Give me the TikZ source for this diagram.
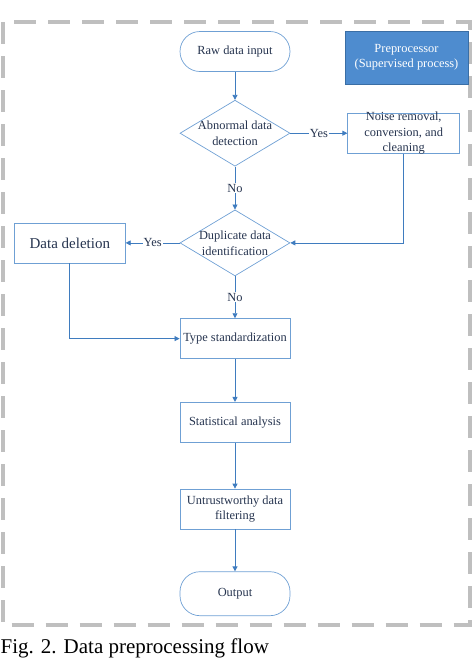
\documentclass[tikz,border=0pt]{standalone}
\usepackage{fontspec}
\setmainfont{Liberation Serif}
\usetikzlibrary{positioning,shapes.geometric,arrows.meta}
\definecolor{flowline}{HTML}{3F7CBF}
\definecolor{boxline}{HTML}{6FA0D4}
\definecolor{flowtext}{HTML}{26344F}
\definecolor{procfill}{HTML}{4E8CCF}
\definecolor{procline}{HTML}{3A6EA5}

\begin{document}
\begin{tikzpicture}[x=1pt, y=-1pt,
				terminal/.style={rectangle, rounded corners=20pt, draw=boxline, line width=0.7pt, text=flowtext, minimum width=110pt, minimum height=40pt, font=\fontsize{12.4}{15.5}\selectfont},
				process/.style={rectangle, draw=boxline, line width=0.7pt, text=flowtext, minimum width=110pt, minimum height=40pt, align=center, font=\fontsize{12.4}{15.5}\selectfont},
				decision/.style={diamond, aspect=1.7, draw=boxline, line width=0.7pt, text=flowtext, minimum width=110pt, minimum height=66pt, inner sep=-4pt, align=center, font=\fontsize{12.4}{16}\selectfont},
				choice/.style={rectangle, fill=white, inner sep=1pt, text=flowtext, font=\fontsize{12.4}{15}\selectfont},
				frame/.style={draw=gray!50, line width=4pt, dash pattern=on 22pt off 12pt}
			]
			\useasboundingbox (0,0) rectangle (474,662);
			\draw[frame] (2.5,22) rectangle (470,625);
			\node[terminal] (rawinput) at (235,51.5) {Raw data input};
			\node[decision] (abnormal) [below=28pt of rawinput] {Abnormal data\\detection};
			\node[decision] (duplicate) [below=43pt of abnormal] {Duplicate data\\identification};
			\node[process] (typestd) [below=42pt of duplicate] {Type standardization};
			\node[process] (statistics) [below=43pt of typestd] {Statistical analysis};
			\node[process] (untrusted) [below=46pt of statistics] {Untrustworthy data\\filtering};
			\node[terminal, minimum height=44pt] (output) [below=42pt of untrusted] {Output};
			\node[process, minimum width=112pt, inner ysep=-4pt] (noise) [right=57pt of abnormal] {Noise removal,\\conversion, and\\cleaning};
			\node[process, minimum width=111pt, font=\fontsize{15}{18}\selectfont] (deletion) [left=54pt of duplicate] {Data deletion};
			\node[rectangle, fill=procfill, draw=procline, line width=0.7pt, text=white, minimum width=123pt, minimum height=53pt, align=center, font=\fontsize{12.4}{15}\selectfont] (preproc) at (406.5,57.5) {Preprocessor\\(Supervised process)};
			\node[anchor=base west, inner sep=0pt, font=\fontsize{21}{25}\selectfont] (caption) at (0.5,653) {Fig. 2. Data preprocessing flow};
			\begin{scope}[draw=flowline, line width=0.8pt, -{Triangle[width=5pt,length=5pt]}]
			\draw (rawinput.south) -- (abnormal.north);
			\draw (abnormal.east) -- (noise.west) node[choice, midway] {Yes};
			\draw (abnormal.south) -- (duplicate.north) node[choice, midway] {No};
			\draw (noise.south) |- (duplicate.east);
			\draw (duplicate.west) -- (deletion.east) node[choice, midway] {Yes};
			\draw (duplicate.south) -- (typestd.north) node[choice, midway] {No};
			\draw (deletion.south) |- (typestd.west);
			\draw (typestd.south) -- (statistics.north);
			\draw (statistics.south) -- (untrusted.north);
			\draw (untrusted.south) -- (output.north);
			\end{scope}
\end{tikzpicture}
\end{document}
